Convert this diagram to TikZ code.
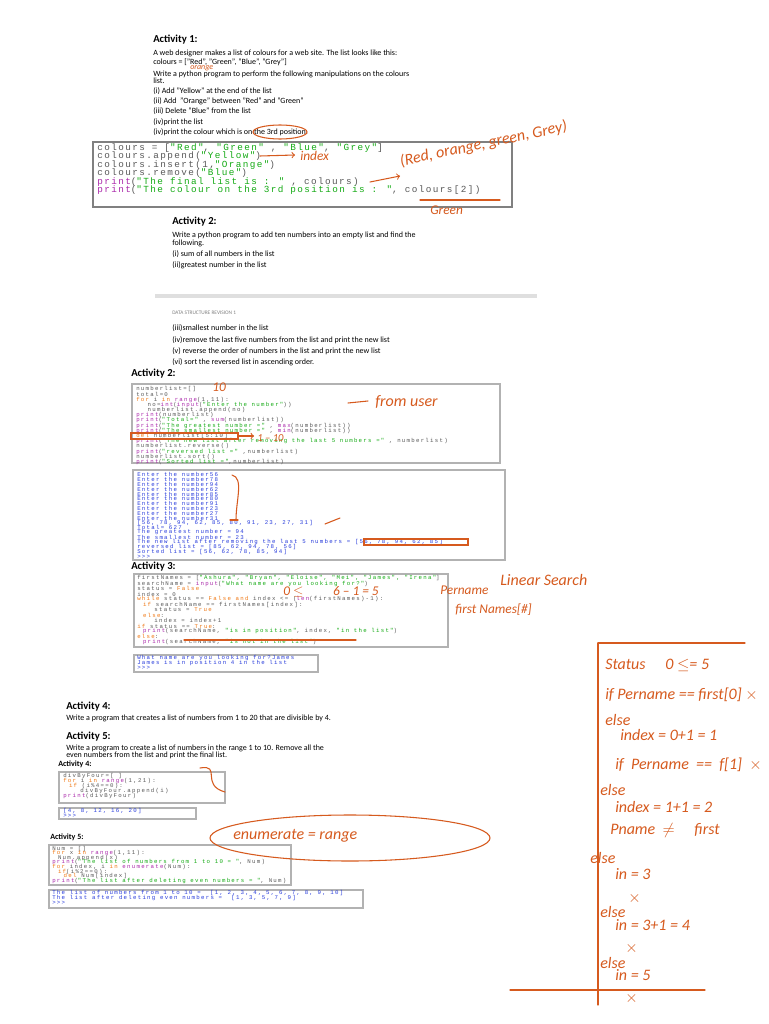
\documentclass[tikz,border=0pt]{standalone}
\usepackage{fontspec}
\setmainfont{Carlito}
\setmonofont{Liberation Mono}
\newfontfamily\monoA[LetterSpace=15]{Liberation Mono}
\newfontfamily\monoB[LetterSpace=22]{Liberation Mono}
\definecolor{hw}{RGB}{214,90,30}
\definecolor{cg}{RGB}{20,170,20}
\definecolor{cp}{RGB}{170,40,170}
\definecolor{ck}{RGB}{240,120,20}
\definecolor{cb}{RGB}{40,60,220}
\newcommand{\G}[1]{\textcolor{cg}{#1}}
\newcommand{\Pp}[1]{\textcolor{cp}{#1}}
\newcommand{\K}[1]{\textcolor{ck}{#1}}
\begin{document}
\begin{tikzpicture}[x=0.75pt,y=-0.75pt,
 txt/.style={anchor=west,inner sep=0,font=\fontsize{6}{7}\selectfont},
 act/.style={anchor=west,inner sep=0,font=\bfseries\fontsize{8}{9}\selectfont},
 sact/.style={anchor=west,inner sep=0,font=\bfseries\fontsize{6}{7}\selectfont},
 cA/.style={anchor=west,inner sep=0,font=\monoA\fontsize{7}{7}\selectfont,text=gray!70!black},
 cB/.style={anchor=west,inner sep=0,font=\monoB\fontsize{4.3}{4.3}\selectfont,text=gray!70!black},
 oB/.style={anchor=west,inner sep=0,font=\monoB\fontsize{4.3}{4.3}\selectfont,text=cb},
 box/.style={draw=gray!60,line width=1pt},
 hand/.style={anchor=west,inner sep=0,text=hw,font=\itshape\fontsize{10}{10}\selectfont},
 hb/.style={anchor=west,inner sep=0,text=hw,font=\itshape\fontsize{12}{12}\selectfont},
 hl/.style={draw=hw,line width=0.8pt,line cap=round}]
\useasboundingbox (0,0) rectangle (768,1024);
\fill[white] (0,0) rectangle (768,1024);
% Activity 1
\node[act] (a1) at (153,40) {Activity 1:};
\node[txt] (t1) at (153,53) {A web designer makes a list of colours for a web site. The list looks like this:};
\node[txt] (t2) at (153,62) {colours = ["Red", "Green", "Blue", "Grey"]};
\node[txt] (t3) at (153,74) {Write a python program to perform the following manipulations on the colours};
\node[txt] (t4) at (153,81) {list.};
\node[txt] (t5) at (153,91) {(i) Add "Yellow" at the end of the list};
\node[txt] (t6) at (153,101) {(ii) Add \ "Orange" between "Red" and "Green"};
\node[txt] (t7) at (153,111) {(iii) Delete "Blue" from the list};
\node[txt] (t8) at (153,122) {(iv)print the list};
\node[txt] (t9) at (153,132) {(iv)print the colour which is on the 3rd position.};
\draw[hl] (280,132) ellipse (27 and 7);
\node[hand,font=\itshape\fontsize{6}{6}\selectfont] (hor) at (190,68.5) {orange};
\draw[box,gray] (93,142) rectangle (512,207);
\node[cA] (c1) at (97,148) {colours = [\G{"Red"}, \G{"Green"} , \G{"Blue"}, \G{"Grey"}]};
\node[cA] (c2) at (97,156.5) {colours.append(\G{"Yellow"})};
\node[cA] (c3) at (97,165) {colours.insert(1,\G{"Orange"})};
\node[cA] (c4) at (97,173.5) {colours.remove(\G{"Blue"})};
\node[cA] (c5) at (97,182) {\Pp{print}(\G{"The final list is : "} , colours)};
\node[cA] (c6) at (97,190.5) {\Pp{print}(\G{"The colour on the 3rd position is : "}, colours[2])};
\coordinate (p1) at (260,156); \coordinate (p1e) at (295,155);
\draw[hl,->] (p1) -- (p1e);
\node[hand] (hi) at (300,156) {index};
\coordinate (p2) at (370,182); \coordinate (p2e) at (400,176);
\draw[hl,->] (p2) -- (p2e);
\node[hb,rotate=12] (hr) at (400,162) {(Red, orange, green, Grey)};
\draw[hl] (420,200) -- (500,200);
\node[hand] (hg) at (430,210) {Green};
% Activity 2 text
\node[act] (a2) at (172,222) {Activity 2:};
\node[txt] (u1) at (172,235) {Write a python program to add ten numbers into an empty list and find the};
\node[txt] (u2) at (172,243) {following.};
\node[txt] (u3) at (172,254) {(i) sum of all numbers in the list};
\node[txt] (u4) at (172,265) {(ii)greatest number in the list};
\fill[gray!25] (155,294) rectangle (537,298);
\node[txt,font=\fontsize{4}{5}\selectfont,text=gray] (ds) at (172,313) {DATA STRUCTURE REVISION 1};
\node[txt] (u5) at (172,328) {(iii)smallest number in the list};
\node[txt] (u6) at (172,340) {(iv)remove the last five numbers from the list and print the new list};
\node[txt] (u7) at (172,351) {(v) reverse the order of numbers in the list and print the new list};
\node[txt] (u8) at (172,362) {(vi) sort the reversed list in ascending order.};
% Activity 2 code
\node[act] (b2) at (131,374) {Activity 2:};
\draw[box] (132,384) rectangle (500,463);
\foreach \t [count=\i] in {
 numberlist=[],total=0,
 {\K{for} i \K{in} \Pp{range}(1,11):},
 {\quad\quad no=\Pp{int}(\Pp{input}(\G{"Enter the number"}))},
 {\quad\quad numberlist.append(no)},
 {\Pp{print}(numberlist)},
 {\Pp{print}(\G{"Total="} , \Pp{sum}(numberlist))},
 {\Pp{print}(\G{"The greatest number ="} , \Pp{max}(numberlist))},
 {\Pp{print}(\G{"The smallest number ="} , \Pp{min}(numberlist))},
 {\K{del} numberlist[5:10]},
 {\Pp{print}(\G{"The new list after removing the last 5 numbers ="} , numberlist)},
 {numberlist.reverse()},
 {\Pp{print}(\G{"reversed list ="} ,numberlist)},
 {numberlist.sort()},
 {\Pp{print}(\G{"Sorted list ="},numberlist)}}
 {\node[cB] (d\i) at (136,{384+\i*5.2}) {\t};}
\draw[box] (133,470) rectangle (505,560);
\foreach \t [count=\i] in {
 Enter the number56,Enter the number78,Enter the number94,Enter the number62,Enter the number85,
 Enter the number80,Enter the number91,Enter the number23,Enter the number27,Enter the number31,
 {[56, 78, 94, 62, 85, 80, 91, 23, 27, 31]},Total= 627,The greatest number = 94,The smallest number = 23,
 {The new list after removing the last 5 numbers = [56, 78, 94, 62, 85]},
 {reversed list = [85, 62, 94, 78, 56]},{Sorted list = [56, 62, 78, 85, 94]},{>{}>{}>}}
 {\node[oB] (e\i) at (137,{470+\i*4.8}) {\t};}
\node[hand] (h10) at (212,387) {10};
\node[hb] (hfu) at (375,402) {from user};
\coordinate (f1) at (348,403); \coordinate (f2) at (368,401);
\draw[hl] (f1) -- (f2);
\draw[hl] (131,433) rectangle (238,439);
\draw[hl,->] (238,436) -- (254,436);
\node[hand,font=\itshape\fontsize{8}{8}\selectfont] (h110) at (257,438) {1 -- 10};
\draw[hl] (232,475) .. controls (244,478) and (236,500) .. (236,520);
\draw[hl] (238,520) -- (230,520);
\draw[hl] (364,539) rectangle (468,545);
\coordinate (ck1) at (325,524); \coordinate (ck2) at (340,518);
\draw[hl] (ck1) -- (ck2);
% Activity 3
\node[act] (a3) at (131,567) {Activity 3:};
\draw[box] (134,574) rectangle (448,647);
\foreach \t [count=\i] in {
 {firstNames = [\G{"Ashura", "Bryan", "Eloise", "Mei", "James", "Irena"}]},
 {searchName = \Pp{input}(\G{"What name are you looking for?"})},
 {status = \K{False}},{index = 0},
 {\K{while} status == \K{False} \K{and} index <= (\Pp{len}(firstNames)-1):},
 {\quad\K{if} searchName == firstNames[index]:},
 {\quad\quad\quad status = \K{True}},
 {\quad\K{else}:},
 {\quad\quad\quad index = index+1},
 {\K{if} status == \K{True}:},
 {\quad\Pp{print}(searchName, \G{"is in position"}, index, \G{"in the list"})},
 {\K{else}:},
 {\quad\Pp{print}(searchName, \G{"is not in the list"})}}
 {\node[cB] (g\i) at (137,{573+\i*5.3}) {\t};}
\draw[box] (134,655) rectangle (318,672);
\node[oB] (o31) at (137,658) {What name are you looking for?James};
\node[oB] (o32) at (137,663) {James is in position 4 in the list};
\node[oB] (o33) at (137,668) {>{}>{}>};
\node[hand] (hpn) at (440,590) {Pername};
\node[hand] (h05) at (283,592) {0 $\le$ \qquad 6 -- 1 = 5};
\node[hand] (hfn) at (455,610) {first Names[\#]};
\node[hb] (hls) at (500,580) {Linear Search};
\draw[hl] (184,640) -- (356,640);
% handwritten trace
\draw[hl] (598,643) -- (598,1005);
\draw[hl] (598,643) -- (745,643);
\draw[hl] (510,990) -- (705,990);
\foreach \t/\x/\y [count=\i] in {
 {Status \quad 0 $\le$= 5}/605/665,
 {if Pername == first[0] $\times$}/605/695,
 {else}/605/720,{index = 0+1 = 1}/620/735,
 {if \ Pername \ == \ f[1] \ $\times$}/615/765,
 {else}/600/790,{index = 1+1 = 2}/615/807,
 {Pname \ $\neq$ \quad first}/610/830,
 {else}/590/858,{in = 3}/615/874,{$\times$}/628/898,
 {else}/600/912,{in = 3+1 = 4}/615/925,{$\times$}/625/948,
 {else}/600/963,{in = 5}/615/975,{$\times$}/625/998}
 {\node[hb] (w\i) at (\x,\y) {\t};}
% Activities 4,5 text
\node[act] (a4) at (66,707) {Activity 4:};
\node[txt] (v1) at (66,718) {Write a program that creates a list of numbers from 1 to 20 that are divisible by 4.};
\node[act] (a5) at (66,737) {Activity 5:};
\node[txt] (v2) at (66,748) {Write a program to create a list of numbers in the range 1 to 10. Remove all the};
\node[txt] (v3) at (66,755) {even numbers from the list and print the final list.};
\node[sact] (s4) at (58,764) {Activity 4:};
\draw[box] (59,772) rectangle (225,803);
\node[cB] (k1) at (63,776) {divByFour=[ ]};
\node[cB] (k2) at (63,781) {\K{for} i \K{in} \Pp{range}(1,21):};
\node[cB] (k3) at (63,786) {\quad\K{if} (i\%4==0):};
\node[cB] (k4) at (63,791) {\quad\quad\quad divByFour.append(i)};
\node[cB] (k5) at (63,796) {\Pp{print}(divByFour)};
\draw[box] (59,808) rectangle (196,819);
\node[oB] (k6) at (63,811) {[4, 8, 12, 16, 20]};
\node[oB] (k7) at (63,816) {>{}>{}>};
\node[sact] (s5) at (50,837) {Activity 5:};
\draw[box] (49,845) rectangle (291,885);
\foreach \t [count=\i] in {
 {Num = []},{\K{for} x \K{in} \Pp{range}(1,11):},{\quad Num.append(x)},
 {\Pp{print}(\G{"The list of numbers from 1 to 10 = "}, Num)},
 {\K{for} index, i \K{in} \Pp{enumerate}(Num):},{\quad\K{if}(i\%2==0):},
 {\quad\quad\K{del} Num[index]},{\Pp{print}(\G{"The list after deleting even numbers = "}, Num)}}
 {\node[cB] (m\i) at (52,{844+\i*4.6}) {\t};}
\draw[box] (49,890) rectangle (363,908);
\node[oB] (n1) at (52,893) {The list of numbers from 1 to 10 = \ [1, 2, 3, 4, 5, 6, 7, 8, 9, 10]};
\node[oB] (n2) at (52,898) {The list after deleting even numbers = \ [1, 3, 5, 7, 9]};
\node[oB] (n3) at (52,903) {>{}>{}>};
\draw[hl] (350,838) ellipse (140 and 23);
\node[hb] (hen) at (233,836) {enumerate = range};
\draw[hl] (200,768) .. controls (222,764) and (200,785) .. (225,792);
\end{tikzpicture}
\end{document}
